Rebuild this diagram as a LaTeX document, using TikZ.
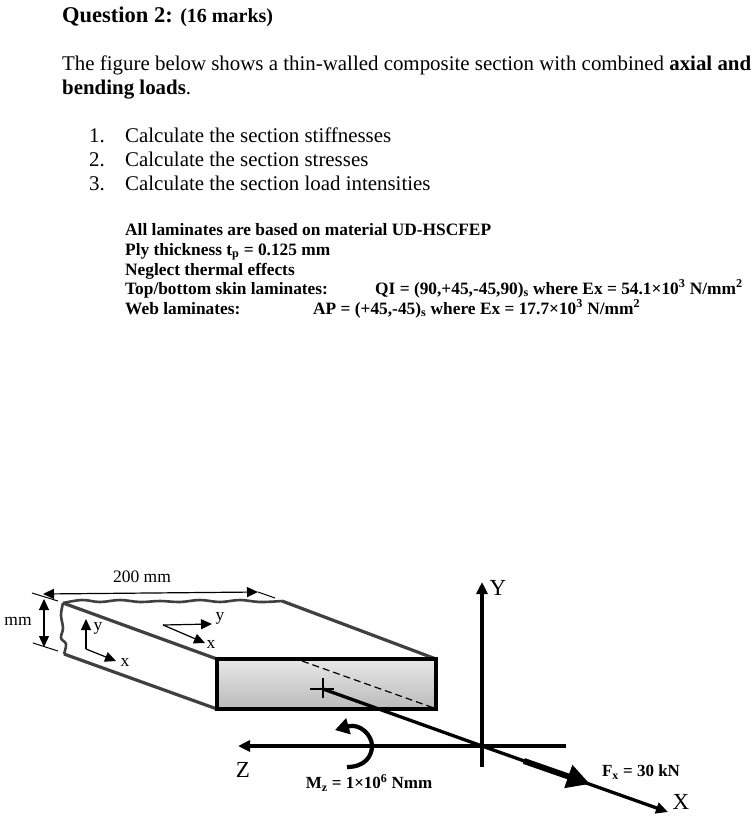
\documentclass[tikz,border=0pt]{standalone}
\usepackage{fontspec}
\setmainfont{Liberation Serif}
\usetikzlibrary{arrows.meta,positioning}
\tikzset{
 txt/.style={anchor=base west,inner sep=0pt,font=\fontsize{20.9}{24}\selectfont},
 spec/.style={anchor=base west,inner sep=0pt,font=\fontsize{17.35}{18}\selectfont\bfseries},
 lab/.style={inner sep=0pt,font=\fontsize{17.5}{18}\selectfont},
 load/.style={inner sep=0pt,font=\fontsize{17}{18}\selectfont\bfseries},
 axislab/.style={inner sep=0pt,font=\fontsize{23}{24}\selectfont},
 skin/.style={draw=black!75,line width=3.2pt,line join=round},
 axis/.style={-{Triangle[length=12pt,width=11pt]},line width=3.3pt,black},
 small/.style={{Triangle[length=11pt,width=10pt]}-{Triangle[length=11pt,width=10pt]},line width=1.2pt,black},
 local/.style={-{Triangle[length=11pt,width=10pt]},line width=1.2pt,black}
}
\begin{document}
\begin{tikzpicture}[x=1pt,y=-1pt]
 \useasboundingbox (0,0) rectangle (754,817);
 % question text
 \node[txt,font=\fontsize{22.5}{24}\selectfont\bfseries] (title) at (62,22) {Question 2: {\fontsize{20}{24}\selectfont (16 marks)}};
 \node[txt] (intro_1) at (62,70) {The figure below shows a thin-walled composite section with combined \textbf{axial and}};
 \node[txt] (intro_2) at (62,94) {\textbf{bending loads}.};
 \node[txt] (item_1) at (89,142) {1.};
 \node[txt] (item_1b) at (125,142) {Calculate the section stiffnesses};
 \node[txt] (item_2) at (89,166) {2.};
 \node[txt] (item_2b) at (125,166) {Calculate the section stresses};
 \node[txt] (item_3) at (89,190) {3.};
 \node[txt] (item_3b) at (125,190) {Calculate the section load intensities};
 \node[spec] (spec_1) at (125,235) {All laminates are based on material UD-HSCFEP};
 \node[spec] (spec_2) at (125,255) {Ply thickness t\textsubscript{p} = 0.125 mm};
 \node[spec] (spec_3) at (125,275) {Neglect thermal effects};
 \node[spec] (spec_4) at (125,294) {Top/bottom skin laminates:};
 \node[spec] (spec_4b) at (375,294) {QI = (90,+45,-45,90)\textsubscript{s} where Ex = 54.1×10\textsuperscript{3} N/mm\textsuperscript{2}};
 \node[spec] (spec_5) at (125,314) {Web laminates:};
 \node[spec] (spec_5b) at (313,314) {AP = (+45,-45)\textsubscript{s} where Ex = 17.7×10\textsuperscript{3} N/mm\textsuperscript{2}};
 % section
 \coordinate (back_l) at (63,603);
 \coordinate (back_r) at (282,601);
 \coordinate (low_l) at (64,654);
 \coordinate (front_tl) at (217,659);
 \coordinate (front_tr) at (436,659);
 \coordinate (front_bl) at (217,709);
 \coordinate (front_br) at (436,709);
 \draw[skin] (low_l) -- (front_bl);
 \draw[skin] (back_l) -- (front_tl);
 \draw[skin] (back_r) -- (front_tr);
 \draw[skin,line width=2.6pt] plot[smooth,tension=0.6] coordinates {(back_l) (82,600) (100,602) (120,600) (140,602) (160,601) (180,602) (200,600) (220,602) (240,600) (260,602) (back_r)};
 \draw[skin,line width=2.6pt] plot[smooth,tension=0.6] coordinates {(back_l) (61,615) (63,628) (61,638) (66,644) (low_l)};
 \draw[line width=3.6pt,top color=black!9,bottom color=black!27] (front_tl) rectangle (front_br);
 \coordinate (dash_a) at (302,661);
 \coordinate (dash_b) at (434,708);
 \draw[dash pattern=on 7pt off 4pt,line width=1.2pt] (dash_a) -- (dash_b);
 % dimensions
 \coordinate (tick_a) at (32,593);
 \coordinate (tick_b) at (58,601);
 \coordinate (tick_c) at (258,592);
 \coordinate (tick_d) at (275,598);
 \coordinate (tick_e) at (33,643);
 \coordinate (tick_f) at (58,651);
 \draw[line width=1pt] (tick_a) -- (tick_b) (tick_c) -- (tick_d) (tick_e) -- (tick_f);
 \coordinate (wide_a) at (43,594);
 \coordinate (wide_b) at (258,592);
 \coordinate (high_a) at (44,599);
 \coordinate (high_b) at (44,647);
 \draw[small] (wide_a) -- (wide_b);
 \draw[small] (high_a) -- (high_b);
 \node[lab] (wide) at (142,577) {200 mm};
 \node[lab] (high) at (18,621) {mm};
 % local axes
 \coordinate (web_o) at (86,649);
 \coordinate (web_y) at (86,619);
 \coordinate (web_x) at (116,661);
 \coordinate (top_o) at (163,625);
 \coordinate (top_y) at (212,624);
 \coordinate (top_x) at (205,643);
 \draw[local] (web_o) -- (web_y);
 \draw[local] (web_o) -- (web_x);
 \draw[local] (top_o) -- (top_y);
 \draw[local] (top_o) -- (top_x);
 \node[lab] (web_ylab) at (98,628) {y};
 \node[lab] (web_xlab) at (125,662) {x};
 \node[lab] (top_ylab) at (220,618) {y};
 \node[lab] (top_xlab) at (211,644) {x};
 % global axes and loads
 \coordinate (origin) at (482,746);
 \coordinate (cross) at (323,689);
 \coordinate (y_start) at (482,767);
 \coordinate (y_end) at (482,582);
 \coordinate (z_start) at (566,746);
 \coordinate (z_end) at (238,746);
 \coordinate (x_end) at (668,812);
 \coordinate (force_a) at (524,761);
 \coordinate (force_b) at (590,784);
 \draw[axis] (y_start) -- (y_end);
 \draw[axis] (z_start) -- (z_end);
 \draw[axis] (cross) -- (origin) -- (x_end);
 \draw[-{Triangle[length=23pt,width=23pt]},line width=6pt] (force_a) -- (force_b);
 \draw[line width=2.6pt] (310,689) -- (334,689) (323,678) -- (323,698);
 \coordinate (moment_a) at (347,767);
 \coordinate (moment_b) at (335,730);
 \draw[-{Triangle[length=14pt,width=16pt]},line width=4.2pt] (moment_a) .. controls (365,767) and (372,756) .. (372,746) .. controls (372,735) and (360,723) .. (moment_b);
 \node[axislab] (y_lab) at (498,588) {Y};
 \node[axislab] (z_lab) at (243,770) {Z};
 \node[axislab] (x_lab) at (681,802) {X};
 \node[load] (moment) at (369,783) {M\textsubscript{z} = 1×10\textsuperscript{6} Nmm};
 \node[load] (force) at (641,772) {F\textsubscript{x} = 30 kN};
\end{tikzpicture}
\end{document}
